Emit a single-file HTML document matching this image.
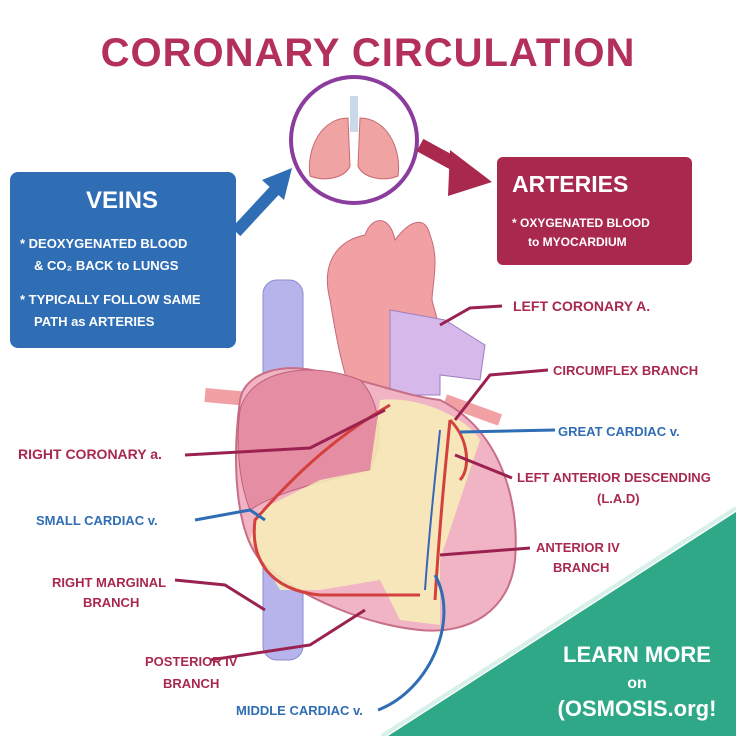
<!DOCTYPE html>
<html><head><style>
body{margin:0;background:#fff;}
svg{display:block;font-family:"Liberation Sans",sans-serif;font-weight:bold;}
</style></head><body>
<svg width="736" height="736" viewBox="0 0 736 736">
<rect width="736" height="736" fill="#fff"/>
<text x="368" y="66" text-anchor="middle" font-size="40" fill="#b3305a" letter-spacing="1">CORONARY CIRCULATION</text>
<polygon points="736,512 736,736 388,736" fill="#2ea886"/>
<line x1="736" y1="508" x2="382" y2="736" stroke="#d8f0ea" stroke-width="4"/>
<text x="637" y="662" text-anchor="middle" font-size="22" fill="#fff">LEARN MORE</text>
<text x="637" y="688" text-anchor="middle" font-size="16" fill="#fff">on</text>
<text x="637" y="716" text-anchor="middle" font-size="22" fill="#fff">(OSMOSIS.org!</text>
<!-- lungs circle -->
<circle cx="354" cy="140" r="63" fill="#fff" stroke="#8a3d9e" stroke-width="4"/>
<rect x="350" y="96" width="8" height="36" fill="#c9d9ea"/>
<path d="M348 118 C322 118 306 148 310 176 C325 182 345 178 350 166 Z" fill="#f0a3a3" stroke="#c96a70"/>
<path d="M360 118 C386 118 402 148 398 176 C383 182 363 178 358 166 Z" fill="#f0a3a3" stroke="#c96a70"/>
<!-- arrows -->
<path d="M236 232 L275 190" stroke="#2f6db5" stroke-width="12" fill="none"/>
<polygon points="262,180 292,168 284,200" fill="#2f6db5"/>
<path d="M420 145 L462 168" stroke="#a8294d" stroke-width="14" fill="none"/>
<polygon points="450,150 492,182 448,196" fill="#a8294d"/>
<!-- veins box -->
<rect x="10" y="172" width="226" height="176" rx="8" fill="#2f6db5"/>
<text x="122" y="208" text-anchor="middle" font-size="24" fill="#fff">VEINS</text>
<g font-size="13" fill="#fff">
<text x="20" y="248">* DEOXYGENATED BLOOD</text>
<text x="34" y="270">&amp; CO₂ BACK to LUNGS</text>
<text x="20" y="304">* TYPICALLY FOLLOW SAME</text>
<text x="34" y="326">PATH as ARTERIES</text>
</g>
<rect x="497" y="157" width="195" height="108" rx="6" fill="#a8294d"/>
<text x="512" y="192" font-size="23" fill="#fff">ARTERIES</text>
<text x="512" y="227" font-size="12" fill="#fff">* OXYGENATED BLOOD</text>
<text x="528" y="246" font-size="12" fill="#fff">to MYOCARDIUM</text>
<!-- heart -->
<rect x="263" y="280" width="40" height="380" rx="14" fill="#b6b4ea" stroke="#8e8bd0"/>
<path d="M330 300 C320 260 340 240 365 235 C372 215 390 215 395 240 C410 220 425 215 430 235 C440 260 432 285 432 300 L440 330 L410 400 L350 390 C340 360 335 330 330 300 Z" fill="#f1a1a4" stroke="#c56a76"/>
<path d="M390 310 L445 320 L485 345 L480 380 L440 375 L440 395 L390 395 Z" fill="#d7b8ea" stroke="#9f7ec0"/>
<path d="M205 395 L260 400" stroke="#f1a1a4" stroke-width="14"/>
<path d="M445 400 L500 420" stroke="#f1a1a4" stroke-width="12"/>
<path d="M240 400 C245 370 290 360 330 375 C370 380 400 395 440 400 C500 430 520 500 515 560 C510 610 470 635 420 630 C370 625 300 600 260 560 C235 530 232 460 240 400 Z" fill="#f0b4c4" stroke="#c86f88" stroke-width="2"/>
<path d="M240 410 C250 370 310 360 360 380 C380 400 385 440 370 470 C330 480 280 490 250 510 C238 480 236 440 240 410 Z" fill="#e58ea3" stroke="#c06078"/>
<path d="M380 400 C420 395 470 420 480 440 L460 500 L440 560 L440 625 L400 620 L380 580 L320 590 L280 590 L250 540 L260 510 L320 480 L370 470 Z" fill="#f7efb8" opacity="0.85"/>
<g stroke="#d4403e" stroke-width="3" fill="none">
<path d="M390 405 C330 440 290 480 255 520 C250 560 270 590 320 595 L420 595"/>
<path d="M450 420 C445 470 440 520 435 600"/>
<path d="M450 420 C470 440 470 470 460 480"/>
</g>
<path d="M440 430 C435 480 430 520 425 590" stroke="#3a65b8" stroke-width="2" fill="none"/>
<g stroke="#9b2250" stroke-width="3" fill="none">
<path d="M185 455 L310 448 L385 410"/>
<path d="M502 306 L470 308 L440 325"/>
<path d="M548 370 L490 375 L455 420"/>
<path d="M512 478 L455 455"/>
<path d="M530 548 L440 555"/>
<path d="M175 580 L225 585 L265 610"/>
<path d="M210 660 L310 645 L365 610"/>
</g>
<g stroke="#2f6db5" stroke-width="3" fill="none">
<path d="M555 430 L460 432"/>
<path d="M195 520 L250 510 L265 520"/>
<path d="M378 710 C430 690 460 620 435 575"/>
</g>
<g font-size="13">
<text x="513" y="311" fill="#a8294d" font-size="14">LEFT CORONARY A.</text>
<text x="553" y="375" fill="#a8294d">CIRCUMFLEX BRANCH</text>
<text x="558" y="436" fill="#2f6db5">GREAT CARDIAC v.</text>
<text x="517" y="482" fill="#a8294d">LEFT ANTERIOR DESCENDING</text>
<text x="597" y="503" fill="#a8294d">(L.A.D)</text>
<text x="536" y="552" fill="#a8294d">ANTERIOR IV</text>
<text x="553" y="572" fill="#a8294d">BRANCH</text>
<text x="18" y="459" fill="#a8294d" font-size="14">RIGHT CORONARY a.</text>
<text x="36" y="525" fill="#2f6db5">SMALL CARDIAC v.</text>
<text x="52" y="587" fill="#a8294d">RIGHT MARGINAL</text>
<text x="83" y="607" fill="#a8294d">BRANCH</text>
<text x="145" y="666" fill="#a8294d">POSTERIOR IV</text>
<text x="163" y="688" fill="#a8294d">BRANCH</text>
<text x="236" y="715" fill="#2f6db5">MIDDLE CARDIAC v.</text>
</g>
</svg>
</body></html>
